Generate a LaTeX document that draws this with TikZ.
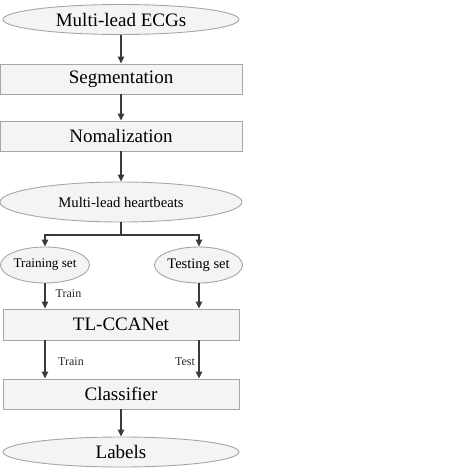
\documentclass[tikz,border=0pt]{standalone}
\usepackage{fontspec}
\setmainfont{Liberation Serif}
\usetikzlibrary{shapes.geometric,arrows.meta}
\definecolor{edgegray}{HTML}{A6A6A6}
\definecolor{fillgray}{HTML}{F4F4F4}
\definecolor{arrowgray}{HTML}{3A3A3A}
\tikzset{
  boxnode/.style={rectangle,draw=edgegray,fill=fillgray,line width=0.9pt,inner sep=0pt},
  ellnode/.style={ellipse,draw=edgegray,fill=fillgray,line width=0.9pt,inner sep=0pt},
  bigtext/.style={font=\fontsize{19}{19}\selectfont},
  flow/.style={draw=arrowgray,line width=1.3pt,-{Triangle[length=7pt,width=6.5pt]}},
  flowline/.style={draw=arrowgray,line width=1.3pt},
  smalllabel/.style={font=\fontsize{12}{12}\selectfont,inner sep=0pt,text=black!85}
}
\begin{document}
\begin{tikzpicture}[x=1pt,y=-1pt]
\useasboundingbox (0,0) rectangle (474,474);
\node[ellnode,bigtext,minimum width=236pt,minimum height=30pt] (ecg) at (121,19.5) {Multi-lead ECGs};
\node[boxnode,bigtext,minimum width=242pt,minimum height=30pt] (seg) at (121,79) {Segmentation};
\node[boxnode,bigtext,minimum width=242pt,minimum height=30pt] (nom) at (121,136) {Nomalization};
\node[ellnode,font=\fontsize{14.7}{14.7}\selectfont,minimum width=242pt,minimum height=40pt] (hb) at (121,202) {Multi-lead heartbeats};
\node[ellnode,font=\fontsize{13.2}{13.2}\selectfont,minimum width=84pt,minimum height=36pt] (train) at (45,265) {Training set};
\node[ellnode,font=\fontsize{14.5}{14.5}\selectfont,minimum width=85pt,minimum height=36pt] (test) at (198.5,265) {Testing set};
\node[boxnode,bigtext,minimum width=236pt,minimum height=31pt] (tl) at (121,324.5) {TL-CCANet};
\node[boxnode,bigtext,minimum width=236pt,minimum height=30pt] (cls) at (121,394) {Classifier};
\node[ellnode,bigtext,minimum width=236pt,minimum height=30pt] (lab) at (121,452) {Labels};

\coordinate (split) at (121,235);
\draw[flow] (ecg) -- (seg);
\draw[flow] (seg) -- (nom);
\draw[flow] (nom) -- (hb);
\draw[flowline] (hb.south) -- (split);
\draw[flow] (split) -| (train.north);
\draw[flow] (split) -| (test.north -| 199,0);
\draw[flow] (train.south) -- (train.south |- tl.north);
\draw[flow] (test.south -| 199,0) -- (199,0 |- tl.north);
\draw[flow] (tl.south -| 45,0) -- (45,0 |- cls.north);
\draw[flow] (tl.south -| 199,0) -- (199,0 |- cls.north);
\draw[flow] (cls) -- (lab);

\node[smalllabel] (l1) at (68.5,294) {Train};
\node[smalllabel] (l2) at (71,362) {Train};
\node[smalllabel] (l3) at (185,362) {Test};
\end{tikzpicture}
\end{document}
